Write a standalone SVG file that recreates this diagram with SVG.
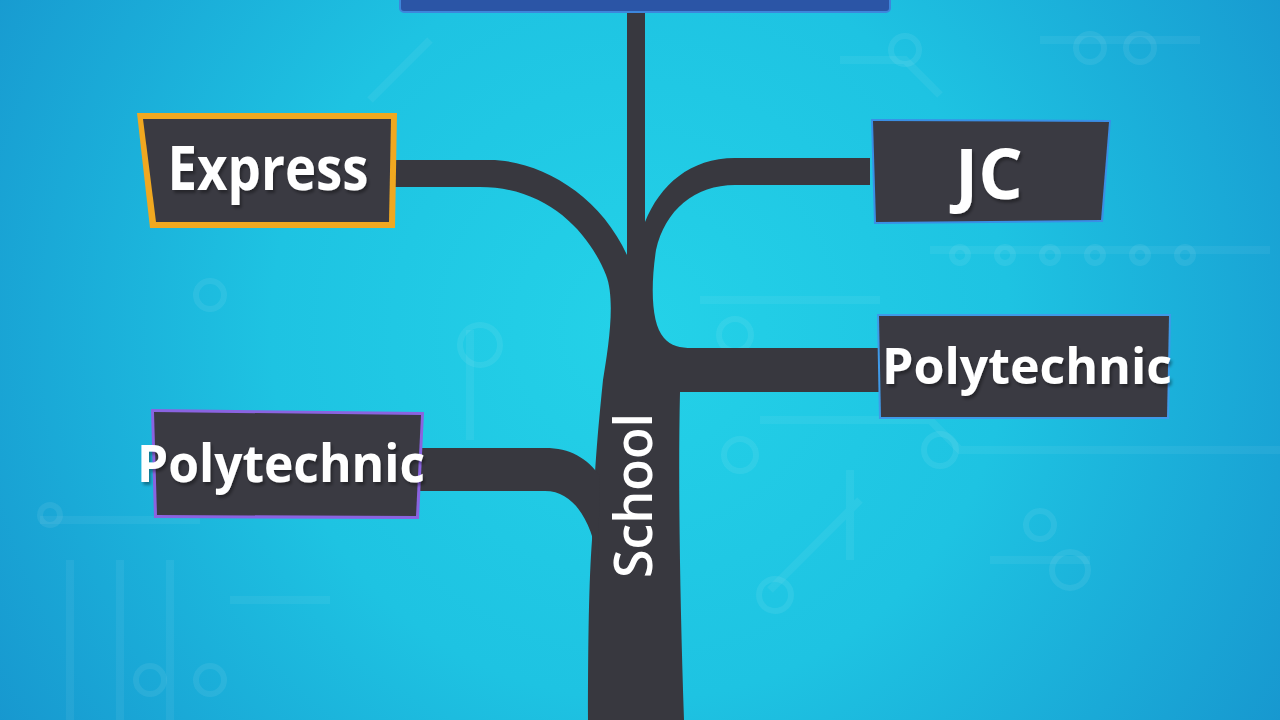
<svg xmlns="http://www.w3.org/2000/svg" width="1280" height="720" viewBox="0 0 1280 720">
<defs>
<radialGradient id="bg" cx="640" cy="330" r="820" gradientUnits="userSpaceOnUse">
<stop offset="0" stop-color="#24d2e8"/>
<stop offset="0.45" stop-color="#1ec3e2"/>
<stop offset="1" stop-color="#1690cc"/>
</radialGradient>
<filter id="sh" x="-10%" y="-10%" width="120%" height="130%">
<feDropShadow dx="2" dy="3" stdDeviation="1.5" flood-color="#000" flood-opacity="0.35"/>
</filter>
</defs>
<style>
.tr{fill:#38383f}
.box{fill:#3a3a42}
.lbl{font-family:"Open Sans","Liberation Sans",sans-serif;font-weight:700;fill:#ffffff}
.circ{fill:none;stroke:#ffffff;stroke-opacity:0.07;stroke-width:6}
.cl{fill:none;stroke:#ffffff;stroke-opacity:0.055;stroke-width:8}
</style>
<rect width="1280" height="720" fill="url(#bg)"/>
<g id="circuit-bg">
<path class="cl" d="M370 100 L430 40 M840 60 L905 60 L940 95 M1040 40 L1200 40 M930 250 L1270 250 M760 420 L930 420 L960 450 L1280 450 M850 470 L850 560 M770 590 L860 500 M990 560 L1090 560 M40 520 L200 520 M70 560 L70 720 M120 560 L120 720 M170 560 L170 720 M230 600 L330 600 M470 330 L470 440 M700 300 L880 300"/>
<circle class="circ" cx="905" cy="50" r="14"/>
<circle class="circ" cx="1090" cy="48" r="14"/>
<circle class="circ" cx="1140" cy="48" r="14"/>
<circle class="circ" cx="210" cy="295" r="14"/>
<circle class="circ" cx="480" cy="345" r="20"/>
<circle class="circ" cx="740" cy="455" r="16"/>
<circle class="circ" cx="775" cy="595" r="16"/>
<circle class="circ" cx="1070" cy="570" r="18"/>
<circle class="circ" cx="940" cy="450" r="16"/>
<circle class="circ" cx="735" cy="335" r="16"/>
<circle class="circ" cx="1040" cy="525" r="14"/>
<circle class="circ" cx="150" cy="680" r="14"/>
<circle class="circ" cx="210" cy="680" r="14"/>
<circle class="circ" cx="50" cy="515" r="10"/>
<circle class="circ" cx="960" cy="255" r="8"/>
<circle class="circ" cx="1005" cy="255" r="8"/>
<circle class="circ" cx="1050" cy="255" r="8"/>
<circle class="circ" cx="1095" cy="255" r="8"/>
<circle class="circ" cx="1140" cy="255" r="8"/>
<circle class="circ" cx="1185" cy="255" r="8"/>
</g>
<g id="connectors">
<path class="tr" d="M392 160 L490 160 C540 160 600 195 627 255 L627 8 L645 8 L645 222 C660 185 690 158 735 158 L870 158 L870 185 L735 185 C695 185 665 210 656 250 C650 290 652 325 664 338 C671 346 680 348 692 348 L882 348 L882 392 L680 392 C678 480 680 600 684 720 L588 720 C588 640 589 580 592 540 C594 470 599 420 603 380 C608 350 616 300 606 275 C590 235 550 187 480 187 L392 187 Z"/>
<path class="tr" d="M416 448 L545 448 C570 448 587 458 600 476 L598 560 C592 525 576 491 545 491 L416 491 Z"/>
</g>
<g id="top">
<rect x="400" y="-12" width="490" height="24" rx="4" fill="#2b55a6" stroke="#3d86dc" stroke-width="2"/>
</g>
<g id="express">
<polygon points="137,113 397,113 395,228 150,228" fill="#f0a820"/>
<polygon points="143,119 391,119 389,222 156,222" class="box"/>
<text class="lbl" x="268" y="190" font-size="60" text-anchor="middle" textLength="201" lengthAdjust="spacingAndGlyphs" filter="url(#sh)">Express</text>
</g>
<g id="jc">
<polygon points="871,119 1111,120 1103,222 874,224" fill="#3a8fe6"/>
<polygon points="873,121 1109,122 1101,220 876,222" class="box"/>
<text class="lbl" x="989" y="199" font-size="70" text-anchor="middle" filter="url(#sh)">JC</text>
</g>
<g id="poly-right">
<polygon points="877,314 1171,314 1169,419 879,419" fill="#3f9ae8"/>
<polygon points="879,316 1169,316 1167,417 881,417" class="box"/>
<text class="lbl" x="1027" y="384" font-size="50" text-anchor="middle" textLength="290" lengthAdjust="spacingAndGlyphs" filter="url(#sh)">Polytechnic</text>
</g>
<g id="poly-left">
<polygon points="151,409 424,412 419,519 154,518" fill="#8a63e0"/>
<polygon points="154,412 421,415 416,516 157,515" class="box"/>
<text class="lbl" x="281" y="482" font-size="52" text-anchor="middle" textLength="288" lengthAdjust="spacingAndGlyphs" filter="url(#sh)">Polytechnic</text>
</g>
<g id="trunk-label">
<text x="0" y="0" transform="translate(652,578) rotate(-90)" font-family="'Open Sans','Liberation Sans',sans-serif" font-weight="600" font-size="52" fill="#ffffff" textLength="165" lengthAdjust="spacingAndGlyphs">School</text>
</g>
</svg>
